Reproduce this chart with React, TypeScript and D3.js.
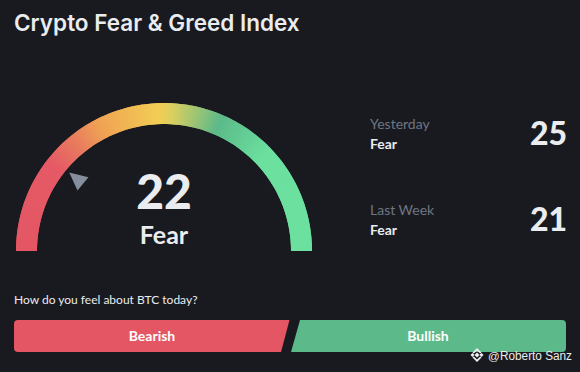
import React from "react";
import * as d3 from "d3";

const W = 580, H = 372;
const currentValue = 22;
const currentLabel = "Fear";
const historyLabels = ["Yesterday", "Last Week"];
const historyClasses = ["Fear", "Fear"];
const historyValues = [25, 21];
const gaugeStops = [0, 21, 28, 35, 49, 52, 63, 76, 100];
const gaugeColors = ["#E45664", "#E55A66", "#E87A5F", "#EFA354", "#F2CE54", "#D9CF60", "#5CBA8A", "#6CE09F", "#6CE09F"];
const buttonLabels = ["Bearish", "Bullish"];
const FONT = "Lato, 'Open Sans', sans-serif";

const cx = 164, cy = 251, rO = 148, rI = 127;
const angle = d3.scaleLinear().domain([0, 100]).range([-Math.PI / 2, Math.PI / 2]);
const colour = d3.scaleLinear<string>().domain(gaugeStops).range(gaugeColors);
const segs = d3.range(0, 100, 0.5);
const arc = d3.arc();
const polar = (v: number, r: number): [number, number] => [
  cx + r * Math.sin(angle(v)),
  cy - r * Math.cos(angle(v)),
];
const ptr = [polar(currentValue, 123), polar(currentValue + 2.6, 105.5), polar(currentValue - 2.6, 105.5)];

export default function App() {
  return (
    <svg width={W} height={H} style={{ position: "absolute", left: 0, top: 0, display: "block" }} fontFamily={FONT}>
      <rect width={W} height={H} fill="#191A20" />
      <text x={14} y={31} fontSize={22.5} fontWeight={600} fontFamily="Inter, sans-serif" fill="#EAECEF">Crypto Fear &amp; Greed Index</text>
      <g transform={`translate(${cx},${cy})`}>
        {segs.map((v) => (
          <path key={v} fill={colour(v + 0.25)}
            d={arc({ innerRadius: rI, outerRadius: rO, startAngle: angle(v), endAngle: angle(Math.min(100, v + 1)) }) as string} />
        ))}
      </g>
      <polygon points={ptr.map((p) => p.join(",")).join(" ")} fill="#848E9C" />
      <text x={cx} y={209} textAnchor="middle" fontSize={48} fontWeight={900} fill="#EAECEF">{currentValue}</text>
      <text x={cx} y={244} textAnchor="middle" fontSize={25} fontWeight={700} fill="#EAECEF">{currentLabel}</text>
      {historyLabels.map((l, i) => {
        const y = i * 86;
        return (
          <g key={l}>
            <text x={370} y={129 + y} fontSize={14} fill="#6F7680">{l}</text>
            <text x={370} y={149 + y} fontSize={14} fontWeight={700} fill="#EAECEF">{historyClasses[i]}</text>
            <text x={530} y={145 + y} fontSize={32} fontWeight={900} fill="#EAECEF">{historyValues[i]}</text>
          </g>
        );
      })}
      <text x={14} y={304} fontSize={12} fill="#EAECEF">How do you feel about BTC today?</text>
      <path d="M18,320H289.5L281,352H18a4,4 0 0 1 -4,-4V324a4,4 0 0 1 4,-4Z" fill="#E45664" />
      <path d="M300,320H562a4,4 0 0 1 4,4V348a4,4 0 0 1 -4,4H291Z" fill="#5CBA8A" />
      <text x={152} y={341} textAnchor="middle" fontSize={14} fontWeight={700} fill="#FFFFFF">{buttonLabels[0]}</text>
      <text x={428} y={341} textAnchor="middle" fontSize={14} fontWeight={700} fill="#FFFFFF">{buttonLabels[1]}</text>
      <g fill="#F0F0F0">
        <polygon points="477,352.5 479.5,355 477,357.5 474.5,355" />
        <polygon points="472.5,353 474.5,355 472.5,357 470.5,355" />
        <polygon points="481.5,353 483.5,355 481.5,357 479.5,355" />
        <polygon points="477,348 481.5,352.5 480.2,353.6 477,350.5 473.8,353.6 472.5,352.5" />
        <polygon points="477,362 481.5,357.5 480.2,356.4 477,359.5 473.8,356.4 472.5,357.5" />
      </g>
      <text x={488} y={360} fontSize={11.5} fontFamily="Arial, 'Liberation Sans', sans-serif" fill="#EDEDED">@</text>
      <text x={500} y={360} fontSize={12} textLength={72} lengthAdjust="spacingAndGlyphs" fontFamily="Arial, 'Liberation Sans', sans-serif" fill="#EDEDED">Roberto Sanz</text>
    </svg>
  );
}
